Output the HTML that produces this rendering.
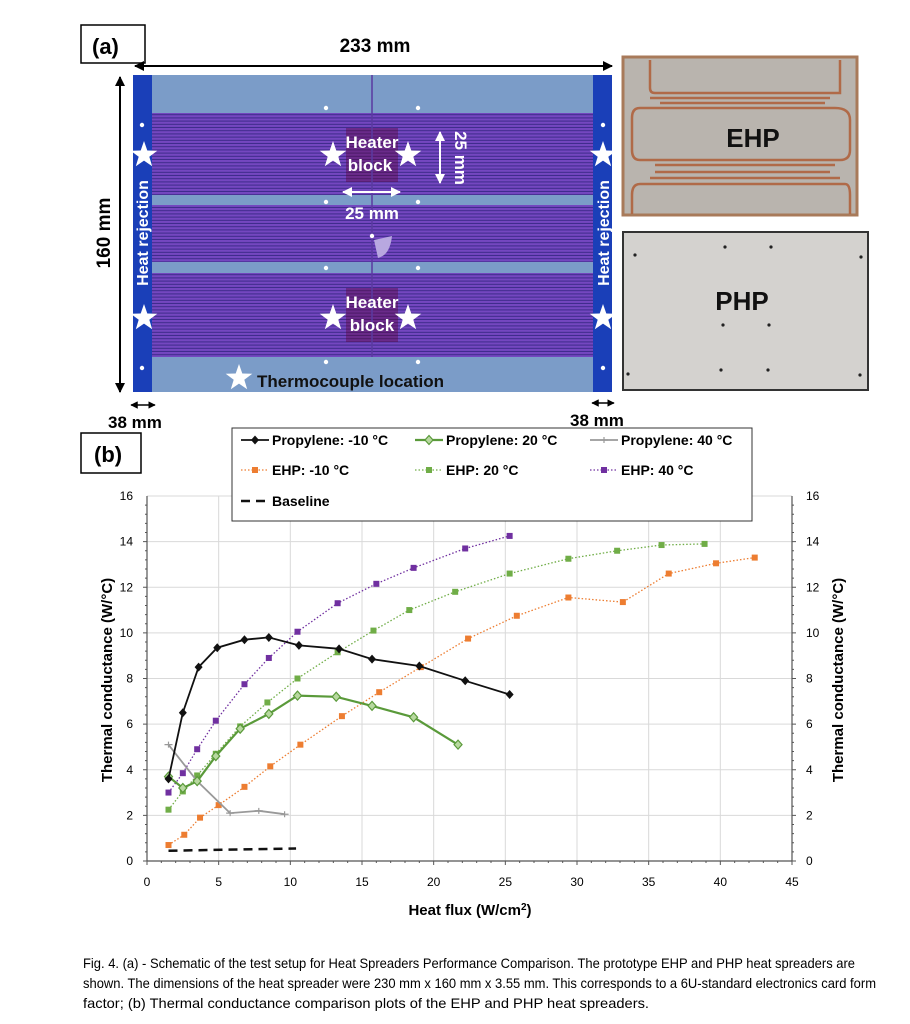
<!DOCTYPE html>
<html><head><meta charset="utf-8"><style>
html,body{margin:0;padding:0;background:#fff;}
svg{display:block;}
text{font-family:"Liberation Sans Narrow","Liberation Sans",sans-serif;}
</style></head><body>
<svg id="s" width="910" height="1024" viewBox="0 0 910 1024" xmlns="http://www.w3.org/2000/svg">
<defs>
<pattern id="stripes" width="8" height="3.2" patternUnits="userSpaceOnUse">
<rect width="8" height="3.2" fill="#7447c0"/><rect y="2.2" width="8" height="1" fill="#3d2a8a"/>
</pattern>
<pattern id="hstripes" width="8" height="3.2" patternUnits="userSpaceOnUse">
<rect width="8" height="3.2" fill="#6a2a8a"/><rect y="2.2" width="8" height="1" fill="#4a1a66"/>
</pattern>
<marker id="ar" viewBox="0 0 10 10" refX="9" refY="5" markerWidth="5" markerHeight="5" orient="auto-start-reverse"><path d="M0,0L10,5L0,10z" fill="#000"/></marker>
<marker id="aw" viewBox="0 0 10 10" refX="9" refY="5" markerWidth="5" markerHeight="5" orient="auto-start-reverse"><path d="M0,0L10,5L0,10z" fill="#fff"/></marker>
</defs>

<!-- panel (a) -->
<rect x="81" y="25" width="64" height="38" fill="#fff" stroke="#000" stroke-width="1.5"/>
<text x="92" y="54" font-size="22" font-weight="bold" font-family="Liberation Sans">(a)</text>
<text x="375" y="52" font-size="19" font-weight="bold" text-anchor="middle">233 mm</text>
<line x1="135" y1="66" x2="612" y2="66" stroke="#000" stroke-width="2" marker-start="url(#ar)" marker-end="url(#ar)"/>
<line x1="120" y1="77" x2="120" y2="392" stroke="#000" stroke-width="2" marker-start="url(#ar)" marker-end="url(#ar)"/>
<text transform="translate(110,233) rotate(-90)" font-size="19" font-weight="bold" text-anchor="middle">160 mm</text>

<rect x="133" y="75" width="479" height="317" fill="#7b9cc8"/>
<rect x="151" y="113" width="442" height="82" fill="url(#stripes)"/>
<rect x="151" y="205" width="442" height="57" fill="url(#stripes)"/>
<rect x="151" y="273" width="442" height="84" fill="url(#stripes)"/>
<rect x="346" y="128" width="52" height="54" fill="url(#hstripes)"/>
<rect x="346" y="288" width="52" height="54" fill="url(#hstripes)"/>
<line x1="372" y1="75" x2="372" y2="357" stroke="#5a3aa0" stroke-width="1.5"/>
<rect x="133" y="75" width="19" height="317" fill="#1a3fb8"/>
<rect x="593" y="75" width="19" height="317" fill="#1a3fb8"/>
<g fill="#fff">
<circle cx="326" cy="108" r="2.2"/><circle cx="418" cy="108" r="2.2"/>
<circle cx="326" cy="202" r="2.2"/><circle cx="418" cy="202" r="2.2"/>
<circle cx="326" cy="268" r="2.2"/><circle cx="418" cy="268" r="2.2"/>
<circle cx="326" cy="362" r="2.2"/><circle cx="418" cy="362" r="2.2"/>
<circle cx="142" cy="125" r="2.2"/><circle cx="603" cy="125" r="2.2"/>
<circle cx="142" cy="368" r="2.2"/><circle cx="603" cy="368" r="2.2"/>
<circle cx="372" cy="236" r="2.2"/>
</g>
<path d="M374,240 L392,236 Q390,255 378,258 Z" fill="#b8a8e0"/>
<g id="stars" fill="#fff"></g>
<text x="372" y="148" font-size="17" font-weight="bold" fill="#fff" text-anchor="middle">Heater</text>
<text x="370" y="171" font-size="17" font-weight="bold" fill="#fff" text-anchor="middle">block</text>
<text x="372" y="308" font-size="17" font-weight="bold" fill="#fff" text-anchor="middle">Heater</text>
<text x="372" y="331" font-size="17" font-weight="bold" fill="#fff" text-anchor="middle">block</text>
<line x1="440" y1="132" x2="440" y2="183" stroke="#fff" stroke-width="2" marker-start="url(#aw)" marker-end="url(#aw)"/>
<text transform="translate(455,158) rotate(90)" font-size="17" font-weight="bold" fill="#fff" text-anchor="middle">25 mm</text>
<line x1="343" y1="192" x2="400" y2="192" stroke="#fff" stroke-width="2" marker-start="url(#aw)" marker-end="url(#aw)"/>
<text x="372" y="219" font-size="17" font-weight="bold" fill="#fff" text-anchor="middle">25 mm</text>
<text transform="translate(148,233) rotate(-90)" font-size="16" font-weight="bold" fill="#fff" text-anchor="middle">Heat rejection</text>
<text transform="translate(609,233) rotate(-90)" font-size="16" font-weight="bold" fill="#fff" text-anchor="middle">Heat rejection</text>
<text x="257" y="387" font-size="17" font-weight="bold" fill="#111">Thermocouple location</text>

<line x1="131" y1="405" x2="155" y2="405" stroke="#000" stroke-width="1.5" marker-start="url(#ar)" marker-end="url(#ar)"/>
<text x="108" y="428" font-size="17" font-weight="bold">38 mm</text>
<line x1="592" y1="403" x2="614" y2="403" stroke="#000" stroke-width="1.5" marker-start="url(#ar)" marker-end="url(#ar)"/>
<text x="570" y="426" font-size="17" font-weight="bold">38 mm</text>

<!-- photos -->
<rect x="623" y="57" width="234" height="158" fill="#b9b4ae"/>
<rect x="623" y="57" width="234" height="158" fill="none" stroke="#a87a5a" stroke-width="3"/>
<g fill="none" stroke="#b06a48" stroke-width="2.5">
<path d="M650,60 L650,88 Q650,93 655,93 L840,93 L840,60"/>
<path d="M650,98 L830,98 M660,103 L825,103"/>
<path d="M640,108 L835,108 Q850,108 850,120 L850,150 Q850,160 840,160 L640,160 Q632,160 632,150 L632,118 Q632,108 640,108"/>
<path d="M655,165 L835,165 M655,172 L830,172 M650,178 L840,178"/>
<path d="M640,184 L845,184 Q850,184 850,195 L850,214 M640,184 Q632,184 632,195 L632,214"/>
</g>
<text x="753" y="147" font-size="26" font-weight="bold" text-anchor="middle" fill="#111" font-family="Liberation Sans">EHP</text>
<rect x="623" y="232" width="245" height="158" fill="#d4d2cf" stroke="#333" stroke-width="2"/>
<text x="742" y="310" font-size="26" font-weight="bold" text-anchor="middle" fill="#111" font-family="Liberation Sans">PHP</text>
<g fill="#222">
<circle cx="725" cy="247" r="1.6"/><circle cx="771" cy="247" r="1.6"/><circle cx="635" cy="255" r="1.6"/><circle cx="861" cy="257" r="1.6"/>
<circle cx="723" cy="325" r="1.6"/><circle cx="769" cy="325" r="1.6"/><circle cx="721" cy="370" r="1.6"/><circle cx="768" cy="370" r="1.6"/>
<circle cx="628" cy="374" r="1.6"/><circle cx="860" cy="375" r="1.6"/>
</g>

<!-- panel (b) -->
<g id="grid"></g>
<rect x="81" y="433" width="60" height="40" fill="#fff" stroke="#000" stroke-width="1.5"/>
<text x="94" y="462" font-size="22" font-weight="bold" font-family="Liberation Sans">(b)</text>
<g id="series"></g>
<rect x="232" y="428" width="520" height="93" fill="#fff" stroke="#333" stroke-width="1"/>
<g id="legend"></g>
<text transform="translate(112,680) rotate(-90)" font-size="15" font-weight="bold" text-anchor="middle">Thermal conductance (W/°C)</text>
<text transform="translate(843,680) rotate(-90)" font-size="15" font-weight="bold" text-anchor="middle">Thermal conductance (W/°C)</text>
<text x="470" y="915" font-size="15" font-weight="bold" text-anchor="middle">Heat flux (W/cm<tspan font-size="10" dy="-5">2</tspan><tspan dy="5">)</tspan></text>

<text x="83" y="968" font-size="14" textLength="772" lengthAdjust="spacingAndGlyphs">Fig. 4. (a) - Schematic of the test setup for Heat Spreaders Performance Comparison. The prototype EHP and PHP heat spreaders are</text>
<text x="83" y="988" font-size="14" textLength="793" lengthAdjust="spacingAndGlyphs">shown. The dimensions of the heat spreader were 230 mm x 160 mm x 3.55 mm. This corresponds to a 6U-standard electronics card form</text>
<text x="83" y="1008" font-size="14" textLength="566" lengthAdjust="spacingAndGlyphs">factor; (b) Thermal conductance comparison plots of the EHP and PHP heat spreaders.</text>
</svg>
<script>
var NS="http://www.w3.org/2000/svg";
function el(p,t,a,txt){var e=document.createElementNS(NS,t);for(var k in a)e.setAttribute(k,a[k]);if(txt!=null)e.textContent=txt;document.getElementById(p).appendChild(e);return e;}
function star(cx,cy,r){var d="";for(var i=0;i<10;i++){var rr=i%2?r*0.4:r;var a=-Math.PI/2+i*Math.PI/5;d+=(i?"L":"M")+(cx+rr*Math.cos(a)).toFixed(1)+","+(cy+rr*Math.sin(a)).toFixed(1);}el("stars","path",{d:d+"Z"});}
[[144,155],[333,155],[408,155],[603,155],[144,318],[333,318],[408,318],[603,318],[239,378]].forEach(function(p){star(p[0],p[1],14);});
var X0=147,X1=792,Y0=861,Y1=496;
function sx(x){return X0+(X1-X0)*x/45;} function sy(y){return Y0-(Y0-Y1)*y/16;}
for(var x=5;x<=45;x+=5)el("grid","line",{x1:sx(x),x2:sx(x),y1:Y1,y2:Y0,stroke:"#d9d9d9","stroke-width":1});
for(var y=2;y<=16;y+=2)el("grid","line",{x1:X0,x2:X1,y1:sy(y),y2:sy(y),stroke:"#d9d9d9","stroke-width":1});
el("grid","line",{x1:X0,x2:X0,y1:Y1,y2:Y0,stroke:"#555","stroke-width":1.2});
el("grid","line",{x1:X1,x2:X1,y1:Y1,y2:Y0,stroke:"#555","stroke-width":1.2});
el("grid","line",{x1:X0,x2:X1,y1:Y0,y2:Y0,stroke:"#555","stroke-width":1.2});
for(var x=0;x<=45;x+=1){el("grid","line",{x1:sx(x),x2:sx(x),y1:Y0,y2:Y0+(x%5?2:4),stroke:"#555"});}
for(var y=0;y<=16;y+=0.4){var m=Math.abs(y/2-Math.round(y/2))<0.01;el("grid","line",{x1:X0-(m?4:2),x2:X0,y1:sy(y),y2:sy(y),stroke:"#555"});el("grid","line",{x1:X1,x2:X1+(m?4:2),y1:sy(y),y2:sy(y),stroke:"#555"});}
for(var x=0;x<=45;x+=5)el("grid","text",{x:sx(x),y:886,"font-size":12,"text-anchor":"middle"},""+x);
for(var y=0;y<=16;y+=2){el("grid","text",{x:X0-14,y:sy(y)+4,"font-size":12,"text-anchor":"end"},""+y);el("grid","text",{x:X1+14,y:sy(y)+4,"font-size":12},""+y);}
var S=[
{c:"#ed7d31",d:"1.5 2",w:1.3,m:"sq",p:[[1.5,0.7],[2.6,1.15],[3.7,1.9],[5,2.45],[6.8,3.25],[8.6,4.15],[10.7,5.1],[13.6,6.35],[16.2,7.4],[19.1,8.5],[22.4,9.75],[25.8,10.75],[29.4,11.55],[33.2,11.35],[36.4,12.6],[39.7,13.05],[42.4,13.3]]},
{c:"#70ad47",d:"1.5 2",w:1.3,m:"sq",p:[[1.5,2.25],[2.5,3.05],[3.5,3.75],[4.8,4.7],[6.5,5.9],[8.4,6.95],[10.5,8.0],[13.3,9.15],[15.8,10.1],[18.3,11.0],[21.5,11.8],[25.3,12.6],[29.4,13.25],[32.8,13.6],[35.9,13.85],[38.9,13.9]]},
{c:"#7030a0",d:"1.5 2",w:1.3,m:"sq",p:[[1.5,3.0],[2.5,3.85],[3.5,4.9],[4.8,6.15],[6.8,7.75],[8.5,8.9],[10.5,10.05],[13.3,11.3],[16,12.15],[18.6,12.85],[22.2,13.7],[25.3,14.25]]},
{c:"#999",d:"",w:1.8,m:"pl",p:[[1.5,5.1],[3.5,3.5],[5.8,2.1],[7.8,2.2],[9.6,2.05]]},
{c:"#5a9a3a",d:"",w:2.2,m:"dh",p:[[1.5,3.7],[2.5,3.2],[3.5,3.5],[4.8,4.6],[6.5,5.8],[8.5,6.45],[10.5,7.25],[13.2,7.2],[15.7,6.8],[18.6,6.3],[21.7,5.1]]},
{c:"#111",d:"",w:1.8,m:"dm",p:[[1.5,3.6],[2.5,6.5],[3.6,8.5],[4.9,9.35],[6.8,9.7],[8.5,9.8],[10.6,9.45],[13.4,9.3],[15.7,8.85],[19,8.55],[22.2,7.9],[25.3,7.3]]}
];
function mk(g,m,x,y,c){if(m=="sq")el(g,"rect",{x:x-3,y:y-3,width:6,height:6,fill:c});
else if(m=="dm")el(g,"path",{d:"M"+x+","+(y-4.5)+"L"+(x+4)+","+y+"L"+x+","+(y+4.5)+"L"+(x-4)+","+y+"Z",fill:c});
else if(m=="dh")el(g,"path",{d:"M"+x+","+(y-4.5)+"L"+(x+4)+","+y+"L"+x+","+(y+4.5)+"L"+(x-4)+","+y+"Z",fill:"#b8d8a0",stroke:c,"stroke-width":1.2});
else el(g,"path",{d:"M"+(x-4)+","+y+"L"+(x+4)+","+y+"M"+x+","+(y-3)+"L"+x+","+(y+3),stroke:c,"stroke-width":1.2});}
S.forEach(function(s){var d=s.p.map(function(p,i){return(i?"L":"M")+sx(p[0]).toFixed(1)+","+sy(p[1]).toFixed(1);}).join("");
var a={d:d,fill:"none",stroke:s.c,"stroke-width":s.w};if(s.d)a["stroke-dasharray"]=s.d;el("series","path",a);
s.p.forEach(function(p){mk("series",s.m,sx(p[0]),sy(p[1]),s.c);});});
el("series","line",{x1:sx(1.5),y1:sy(0.45),x2:sx(10.4),y2:sy(0.55),stroke:"#111","stroke-width":2.5,"stroke-dasharray":"9 6"});
var L=[[241,445,5,"Propylene: -10 °C"],[415,445,4,"Propylene: 20 °C"],[590,445,3,"Propylene: 40 °C"],
[241,475,0,"EHP: -10 °C"],[415,475,1,"EHP: 20 °C"],[590,475,2,"EHP: 40 °C"]];
L.forEach(function(l){var s=S[l[2]];var a={x1:l[0],x2:l[0]+28,y1:l[1]-5,y2:l[1]-5,stroke:s.c,"stroke-width":s.w};if(s.d)a["stroke-dasharray"]=s.d;el("legend","line",a);
mk("legend",s.m,l[0]+14,l[1]-5,s.c);el("legend","text",{x:l[0]+31,y:l[1],"font-size":14,"font-weight":"bold"},l[3]);});
el("legend","line",{x1:241,x2:269,y1:501,y2:501,stroke:"#111","stroke-width":2.5,"stroke-dasharray":"9 6"});
el("legend","text",{x:272,y:506,"font-size":14,"font-weight":"bold"},"Baseline");
</script>
</body></html>
